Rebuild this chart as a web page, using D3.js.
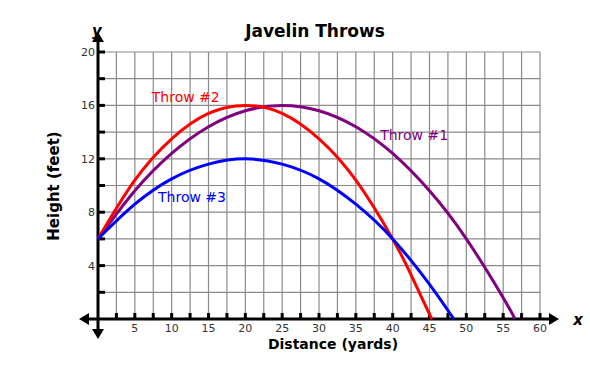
<!DOCTYPE html>
<html><head><meta charset="utf-8">
<script src="https://cdn.jsdelivr.net/npm/d3@7"></script>
<style>body{margin:0;background:#fff}svg{display:block}text{font-family:"DejaVu Sans",Verdana,sans-serif}</style>
</head><body><div id="chart"></div>
<script>
const title = "Javelin Throws";
const xTitle = "Distance (yards)";
const yTitle = "Height (feet)";
const xTickLabels = [5,10,15,20,25,30,35,40,45,50,55,60];
const yTickLabels = [4,8,12,16,20];
const seriesNames = ["Throw #1","Throw #2","Throw #3"];
const seriesColors = ["#800080","#ff0000","#0000ff"];
const throw1X = [0,5,10,15,20,25,30,35,40,45,50,55,56.6];
const throw1Y = [6,9.6,12.4,14.4,15.6,16,15.6,14.4,12.4,9.6,6,1.6,0];
const throw2X = [0,5,10,15,20,25,30,35,40,42.5,45.3];
const throw2Y = [6,10.4,13.5,15.4,16,15.4,13.5,10.4,6,3.3,0];
const throw3X = [0,5,10,15,20,25,30,35,40,45,48.3];
const throw3Y = [6,8.6,10.5,11.6,12,11.6,10.5,8.6,6,2.6,0];
const labelPos = [[38.3,13.4],[7.3,16.25],[8.15,8.75]];

const W=590,H=367;
const x = d3.scaleLinear().domain([0,60]).range([98,540]);
const y = d3.scaleLinear().domain([0,20]).range([319,52]);
const svg = d3.select("#chart").append("svg").attr("width",W).attr("height",H);

// grid
const gx = d3.range(2.5,60.01,2.5), gy = d3.range(2,20.01,2);
svg.append("g").selectAll("line").data(gx).join("line")
  .attr("x1",d=>x(d)).attr("x2",d=>x(d)).attr("y1",y(0)).attr("y2",y(20))
  .attr("stroke","#8a8a8a").attr("stroke-width",1.2);
svg.append("g").selectAll("line").data(gy).join("line")
  .attr("x1",x(0)).attr("x2",x(60)).attr("y1",d=>y(d)).attr("y2",d=>y(d))
  .attr("stroke","#8a8a8a").attr("stroke-width",1.2);

// axes
const ax = svg.append("g");
ax.append("line").attr("x1",86).attr("x2",550).attr("y1",y(0)).attr("y2",y(0)).attr("stroke","#000").attr("stroke-width",3);
ax.append("line").attr("x1",x(0)).attr("x2",x(0)).attr("y1",42).attr("y2",330).attr("stroke","#000").attr("stroke-width",3);
ax.append("path").attr("d",`M${x(0)-6},42 L${x(0)},32 L${x(0)+6},42 Z`);
ax.append("path").attr("d",`M${x(0)-6},329 L${x(0)},339 L${x(0)+6},329 Z`);
ax.append("path").attr("d",`M89,${y(0)-6} L79,${y(0)} L89,${y(0)+6} Z`);
ax.append("path").attr("d",`M549,${y(0)-6} L559,${y(0)} L549,${y(0)+6} Z`);
// ticks
ax.append("g").selectAll("line").data(gx).join("line")
  .attr("x1",d=>x(d)).attr("x2",d=>x(d)).attr("y1",y(0)).attr("y2",y(0)-6)
  .attr("stroke","#000").attr("stroke-width",3);
ax.append("g").selectAll("line").data(gy).join("line")
  .attr("x1",x(0)).attr("x2",x(0)+7).attr("y1",d=>y(d)).attr("y2",d=>y(d))
  .attr("stroke","#000").attr("stroke-width",3);
// tick labels
svg.append("g").selectAll("text").data(xTickLabels).join("text")
  .attr("x",d=>x(d)).attr("y",y(0)+13).attr("text-anchor","middle")
  .attr("font-size",11).attr("fill","#333").text(d=>d);
svg.append("g").selectAll("text").data(yTickLabels).join("text")
  .attr("x",95).attr("y",d=>y(d)+4).attr("text-anchor","end")
  .attr("font-size",11).attr("fill","#333").text(d=>d);

// axis letters
svg.append("text").attr("x",97).attr("y",36).attr("text-anchor","middle").attr("font-size",15)
  .attr("font-weight","bold").attr("font-style","italic").text("y");
svg.append("text").attr("x",578).attr("y",325).attr("text-anchor","middle").attr("font-size",15)
  .attr("font-weight","bold").attr("font-style","italic").text("x");

// titles
svg.append("text").attr("x",315).attr("y",37).attr("text-anchor","middle").attr("font-size",17)
  .attr("font-weight","bold").text(title);
svg.append("text").attr("x",333).attr("y",349).attr("text-anchor","middle").attr("font-size",14)
  .attr("font-weight","bold").text(xTitle);
svg.append("text").attr("transform","translate(59,186) rotate(-90)").attr("text-anchor","middle")
  .attr("font-size",15).attr("font-weight","bold").text(yTitle);

// series
const series = [[throw1X,throw1Y],[throw2X,throw2Y],[throw3X,throw3Y]];
const line = d3.line().x(d=>x(d[0])).y(d=>y(d[1])).curve(d3.curveNatural);
series.forEach((s,i)=>{
  const pts = s[0].map((v,j)=>[v,s[1][j]]);
  svg.append("path").datum(pts).attr("d",line).attr("fill","none")
    .attr("stroke",seriesColors[i]).attr("stroke-width",3);
  svg.append("text").attr("x",x(labelPos[i][0])).attr("y",y(labelPos[i][1]))
    .attr("font-size",14).attr("fill",seriesColors[i]).text(seriesNames[i]);
});
</script></body></html>
